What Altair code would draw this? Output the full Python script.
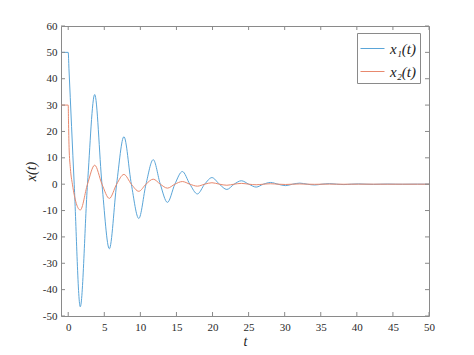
import altair as alt
import pandas as pd

# series 1: x1(t)
t1 = [-1, 0, 0.1, 0.83, 1.67, 2.67, 3.67, 4.68, 5.70, 6.71, 7.72, 8.75, 9.78, 10.78, 11.78,
      12.76, 13.75, 14.78, 15.82, 16.86, 17.90, 18.91, 19.92, 20.95, 21.98, 22.99, 24.00,
      25.02, 26.05, 27.05, 28.05, 29.07, 30.10, 31.10, 32.10, 33.12, 34.15, 35.17, 36.20,
      37.20, 38.20, 39.22, 40.25, 41.27, 42.30, 43.30, 44.30, 45.32, 46.35, 47.37, 48.40,
      49.40, 50]
x1 = [50, 50, 44, 0, -46.5, 0, 34, 0, -24.5, 0, 18, 0, -13, 0, 9.3,
      0, -6.9, 0, 4.8, 0, -3.7, 0, 2.5, 0, -2.0, 0, 1.3,
      0, -1.1, 0, 0.65, 0, -0.55, 0, 0.4, 0, -0.3, 0, 0.2,
      0, -0.15, 0, 0.1, 0, -0.07, 0, 0.05, 0, -0.03, 0, 0.02,
      0, 0]

# series 2: x2(t)
t2 = [-1, 0, 0.04, 0.12, 0.3, 0.58, 1.67, 2.67, 3.67, 4.68, 5.70, 6.71, 7.72, 8.75, 9.78,
      10.78, 11.78, 12.76, 13.75, 14.78, 15.82, 16.86, 17.90, 18.91, 19.92, 20.95, 21.98,
      22.99, 24.00, 25.02, 26.05, 27.05, 28.05, 29.07, 30.10, 31.10, 32.10, 33.12, 34.15,
      35.17, 36.20, 37.20, 38.20, 39.22, 40.25, 42.30, 44.30, 46.35, 48.40, 50]
x2 = [30, 30, 24, 14, 6, 0, -9.8, 0, 7.2, 0, -5.4, 0, 3.7, 0, -2.7,
      0, 1.9, 0, -1.5, 0, 1.0, 0, -0.75, 0, 0.55, 0, -0.4,
      0, 0.3, 0, -0.22, 0, 0.16, 0, -0.12, 0, 0.09, 0, -0.06,
      0, 0.04, 0, -0.03, 0, 0.02, 0, 0, 0, 0, 0]

series_names = ["x₁(t)", "x₂(t)"]
colors = ["#5aa5d8", "#e8896e"]
x_ticks = list(range(0, 51, 5))
y_ticks = list(range(-50, 61, 10))

W, H = 368, 290
GRAY = "#8a8a8a"
FONT = "Liberation Serif"

df = pd.concat([
    pd.DataFrame({"t": t1, "x": x1, "s": series_names[0]}),
    pd.DataFrame({"t": t2, "x": x2, "s": series_names[1]}),
])

xs = alt.Scale(domain=[-1, 50], nice=False, zero=False)
ys = alt.Scale(domain=[-50, 60], nice=False, zero=False)

neg_fix = "datum.value < 0 ? '-' + abs(datum.value) : '' + datum.value"

x_axis = alt.Axis(
    values=x_ticks, title="t", ticks=False, domain=False, grid=False,
    labelPadding=5, labelExpr=neg_fix, labelOverlap=False, labelFlush=False,
    labelFont=FONT, labelFontSize=11, labelColor="#2a2a2a",
    titleFont=FONT, titleColor="#222222", titleFontStyle="italic",
    titleFontWeight="normal", titleFontSize=14, titlePadding=2)
y_axis = alt.Axis(
    values=y_ticks, title="x(t)", ticks=False, domain=False, grid=False,
    labelPadding=4, labelExpr=neg_fix, labelOverlap=False, labelFlush=False,
    labelFont=FONT, labelFontSize=11, labelColor="#2a2a2a",
    titleFont=FONT, titleColor="#222222", titleFontStyle="italic",
    titleFontWeight="normal", titleFontSize=14, titlePadding=4)

lines = alt.Chart(df).mark_line(strokeWidth=1, interpolate="monotone").encode(
    x=alt.X("t:Q", scale=xs, axis=x_axis),
    y=alt.Y("x:Q", scale=ys, axis=y_axis),
    color=alt.Color("s:N", scale=alt.Scale(domain=series_names, range=colors),
                    legend=alt.Legend(
                        title=None, orient="none", legendX=296, legendY=7,
                        direction="vertical", fillColor="white", strokeColor=GRAY,
                        padding=3, symbolType="stroke", symbolSize=576,
                        symbolStrokeWidth=1, labelFont=FONT, labelFontSize=15,
                        labelFontStyle="italic", labelColor="#222222",
                        rowPadding=2, labelOffset=5)),
)

xt = pd.DataFrame({"t": x_ticks})
yt = pd.DataFrame({"x": y_ticks})

tick_bottom = alt.Chart(xt).mark_rule(color=GRAY, strokeWidth=1).encode(
    x=alt.X("t:Q", scale=xs, axis=x_axis), y=alt.value(H), y2=alt.value(H - 4))
tick_top = alt.Chart(xt).mark_rule(color=GRAY, strokeWidth=1).encode(
    x=alt.X("t:Q", scale=xs, axis=x_axis), y=alt.value(0), y2=alt.value(4))
tick_left = alt.Chart(yt).mark_rule(color=GRAY, strokeWidth=1).encode(
    y=alt.Y("x:Q", scale=ys, axis=y_axis), x=alt.value(0), x2=alt.value(4))
tick_right = alt.Chart(yt).mark_rule(color=GRAY, strokeWidth=1).encode(
    y=alt.Y("x:Q", scale=ys, axis=y_axis), x=alt.value(W), x2=alt.value(W - 4))

chart = alt.layer(lines, tick_bottom, tick_top, tick_left, tick_right).properties(
    width=W, height=H,
    padding={"left": 61, "top": 26, "right": 45, "bottom": 39},
    autosize=alt.AutoSizeParams(type="none"),
).configure(
    font=FONT
).configure_view(
    stroke=GRAY, strokeWidth=1
)

chart.save("out.html", embed_options={"renderer": "svg", "actions": False})
